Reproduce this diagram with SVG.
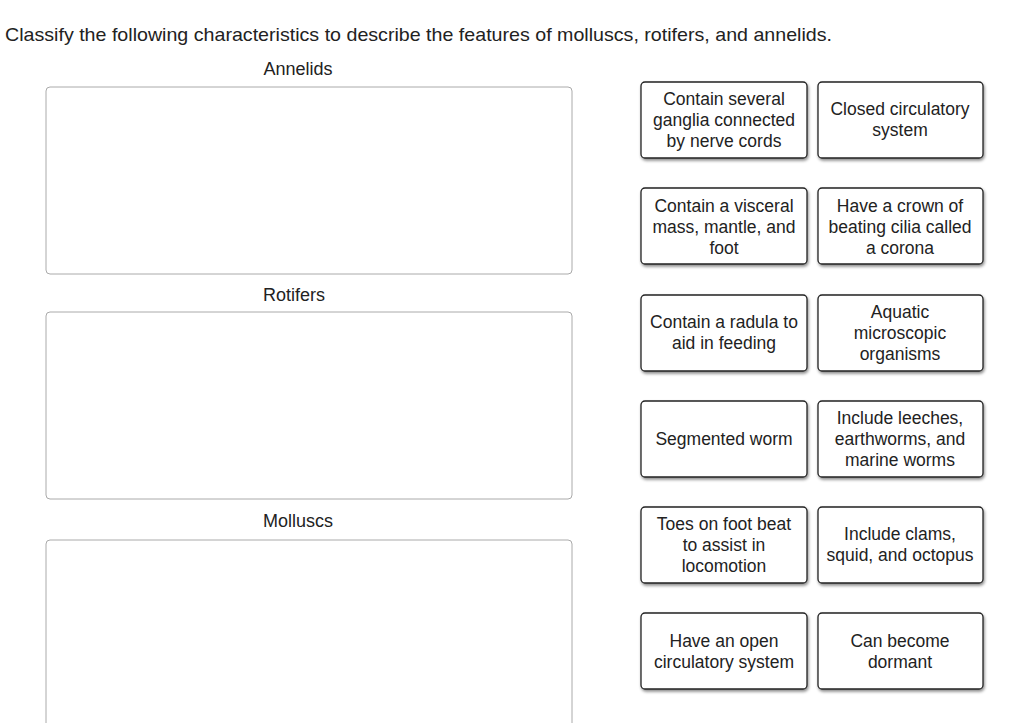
<svg xmlns="http://www.w3.org/2000/svg" width="1027" height="723" viewBox="0 0 1027 723">
<defs>
<style>
text{font-family:"Liberation Sans",Arial,sans-serif;fill:#222;}
.t{font-size:17.5px;text-anchor:middle;}
.h{font-size:18px;text-anchor:middle;}
.zone{fill:#fff;stroke:#aaa;stroke-width:1;}
.card{fill:#fff;stroke:#222;stroke-width:1.3;filter:url(#sh);}
</style>
<filter id="sh" x="-10%" y="-10%" width="130%" height="130%"><feDropShadow dx="1" dy="2" stdDeviation="1.5" flood-color="#000" flood-opacity="0.45"/></filter>
</defs>
<rect width="1027" height="723" fill="#fff"/>
<text x="5" y="41" style="font-size:19px" textLength="827" lengthAdjust="spacingAndGlyphs">Classify the following characteristics to describe the features of molluscs, rotifers, and annelids.</text>
<g id="annelids"><text class="h" x="298" y="75">Annelids</text><rect class="zone" x="46" y="87" width="526" height="187" rx="4"/></g>
<g id="rotifers"><text class="h" x="294" y="301">Rotifers</text><rect class="zone" x="46" y="312" width="526" height="187" rx="4"/></g>
<g id="molluscs"><text class="h" x="298" y="527">Molluscs</text><rect class="zone" x="46" y="540" width="526" height="200" rx="4"/></g>
<g id="connectors"/>
<g id="c1"><rect class="card" x="641" y="82" width="166" height="76" rx="4"/><text class="t" x="724" y="105">Contain several</text><text class="t" x="724" y="126">ganglia connected</text><text class="t" x="724" y="147">by nerve cords</text></g>
<g id="c2"><rect class="card" x="818" y="82" width="165" height="76" rx="4"/><text class="t" x="900" y="115">Closed circulatory</text><text class="t" x="900" y="136">system</text></g>
<g id="c3"><rect class="card" x="641" y="188" width="166" height="76" rx="4"/><text class="t" x="724" y="212">Contain a visceral</text><text class="t" x="724" y="233">mass, mantle, and</text><text class="t" x="724" y="254">foot</text></g>
<g id="c4"><rect class="card" x="818" y="188" width="165" height="76" rx="4"/><text class="t" x="900" y="212">Have a crown of</text><text class="t" x="900" y="233">beating cilia called</text><text class="t" x="900" y="254">a corona</text></g>
<g id="c5"><rect class="card" x="641" y="295" width="166" height="76" rx="4"/><text class="t" x="724" y="328">Contain a radula to</text><text class="t" x="724" y="349">aid in feeding</text></g>
<g id="c6"><rect class="card" x="818" y="295" width="165" height="76" rx="4"/><text class="t" x="900" y="318">Aquatic</text><text class="t" x="900" y="339">microscopic</text><text class="t" x="900" y="360">organisms</text></g>
<g id="c7"><rect class="card" x="641" y="401" width="166" height="76" rx="4"/><text class="t" x="724" y="445">Segmented worm</text></g>
<g id="c8"><rect class="card" x="818" y="401" width="165" height="76" rx="4"/><text class="t" x="900" y="424">Include leeches,</text><text class="t" x="900" y="445">earthworms, and</text><text class="t" x="900" y="466">marine worms</text></g>
<g id="c9"><rect class="card" x="641" y="507" width="166" height="76" rx="4"/><text class="t" x="724" y="530">Toes on foot beat</text><text class="t" x="724" y="551">to assist in</text><text class="t" x="724" y="572">locomotion</text></g>
<g id="c10"><rect class="card" x="818" y="507" width="165" height="76" rx="4"/><text class="t" x="900" y="540">Include clams,</text><text class="t" x="900" y="561">squid, and octopus</text></g>
<g id="c11"><rect class="card" x="641" y="613" width="166" height="76" rx="4"/><text class="t" x="724" y="647">Have an open</text><text class="t" x="724" y="668">circulatory system</text></g>
<g id="c12"><rect class="card" x="818" y="613" width="165" height="76" rx="4"/><text class="t" x="900" y="647">Can become</text><text class="t" x="900" y="668">dormant</text></g>
</svg>
